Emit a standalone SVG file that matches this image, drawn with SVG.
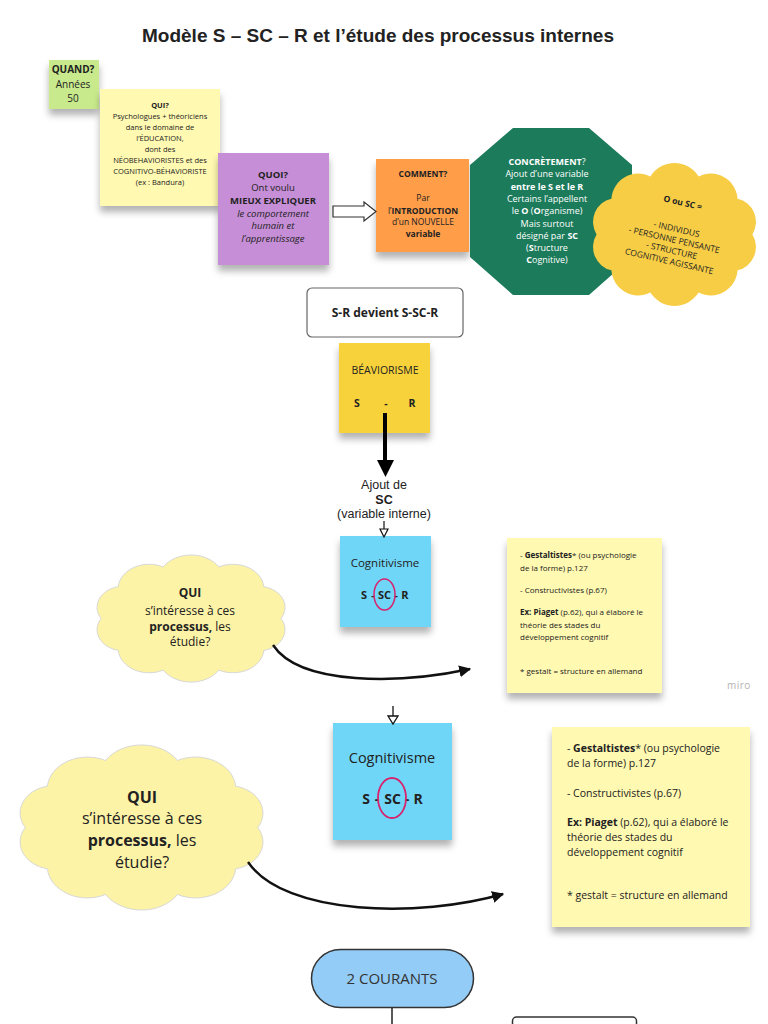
<svg xmlns="http://www.w3.org/2000/svg" width="768" height="1024" viewBox="0 0 768 1024">
<style>
text{font-family:"Open Sans","Noto Sans",sans-serif;fill:#222}
.t{font-family:"Liberation Sans",Arial,sans-serif;font-weight:bold;font-size:19px;fill:#222}
.ar{font-family:"Liberation Sans",Arial,sans-serif;font-size:12.5px;fill:#222}
.b{font-weight:bold}
.i{font-style:italic}
.c{text-anchor:middle}
.w,.w tspan{fill:#fff}
.note{filter:url(#sh)}
.cl{stroke:#d8d8d8;stroke-width:1}
.ln{fill:none;stroke:#111;stroke-width:2.4}
</style>
<defs>
<filter id="sh" x="-20%" y="-20%" width="140%" height="150%">
<feDropShadow dx="0" dy="6" stdDeviation="3.5" flood-color="#000" flood-opacity="0.3"/>
</filter>
<path id="cloud" vector-effect="non-scaling-stroke" d="M184,80 A25,25 0 0 1 168,117.6 A29,29 0 0 1 126,140.9 A31,31 0 0 1 74,140.9 A29,29 0 0 1 32,117.6 A25,25 0 0 1 16,80 A25,25 0 0 1 32,42.4 A29,29 0 0 1 74,19.1 A31,31 0 0 1 126,19.1 A29,29 0 0 1 168,42.4 A25,25 0 0 1 184,80 Z"/>
<marker id="ah" viewBox="0 0 10 10" refX="9" refY="5" markerWidth="5" markerHeight="5" orient="auto" markerUnits="strokeWidth">
<path d="M0,0 L10,5 L0,10 Z" fill="#111"/>
</marker>
</defs>
<rect width="768" height="1024" fill="#fff"/>

<text class="t c" x="378" y="42">Modèle S – SC – R et l’étude des processus internes</text>

<g id="quand">
<rect class="note" x="49" y="60" width="50" height="49" fill="#c9ea8c"/>
<text class="c" x="73" y="73" font-size="10"><tspan class="b">QUAND?</tspan><tspan x="73" dy="15">Années</tspan><tspan x="73" dy="14">50</tspan></text>
</g>

<g id="qui">
<rect class="note" x="100" y="89" width="120" height="117" fill="#fff9b1"/>
<text class="c" x="160" y="108" font-size="7.5"><tspan class="b">QUI?</tspan><tspan x="160" dy="11">Psychologues + théoriciens</tspan><tspan x="160" dy="11">dans le domaine de</tspan><tspan x="160" dy="11">l’ÉDUCATION,</tspan><tspan x="160" dy="11">dont des</tspan><tspan x="160" dy="11">NÉOBEHAVIORISTES et des</tspan><tspan x="160" dy="11">COGNITIVO-BÉHAVIORISTE</tspan><tspan x="160" dy="11">(ex : Bandura)</tspan></text>
</g>

<g id="quoi">
<rect class="note" x="218" y="153" width="111" height="112" fill="#c68ed6"/>
<text class="c" x="273" y="178" font-size="9.5"><tspan class="b">QUOI?</tspan><tspan x="273" dy="13">Ont voulu</tspan><tspan x="273" dy="13" class="b">MIEUX EXPLIQUER</tspan><tspan x="273" dy="12.5" class="i">le comportement</tspan><tspan x="273" dy="12.5" class="i">humain et</tspan><tspan x="273" dy="12.5" class="i">l’apprentissage</tspan></text>
</g>

<g id="comment">
<rect class="note" x="376" y="159" width="93" height="93" fill="#ff9d48"/>
<text class="c" x="423" y="177" font-size="8.5"><tspan class="b">COMMENT?</tspan><tspan x="423" dy="24">Par</tspan><tspan x="423" dy="12.5">l’<tspan class="b">INTRODUCTION</tspan></tspan><tspan x="423" dy="11.5">d’un NOUVELLE</tspan><tspan x="423" dy="12" class="b">variable</tspan></text>
</g>

<g id="concretement">
<polygon points="513,128 589,128 632,165 632,257 589,295 513,295 470,257 470,165" fill="#1c7b5b"/>
<text class="c w" x="547" y="165" font-size="9"><tspan><tspan class="b">CONCRÈTEMENT</tspan>?</tspan><tspan x="547" dy="12.3">Ajout d’une variable</tspan><tspan x="547" dy="12.3" class="b">entre le S et le R</tspan><tspan x="547" dy="12.3">Certains l’appellent</tspan><tspan x="547" dy="12.3">le <tspan class="b">O</tspan> (<tspan class="b">O</tspan>rganisme)</tspan><tspan x="547" dy="12.3">Mais surtout</tspan><tspan x="547" dy="12.3">désigné par <tspan class="b">SC</tspan></tspan><tspan x="547" dy="12.3">(<tspan class="b">S</tspan>tructure</tspan><tspan x="547" dy="12.3"><tspan class="b">C</tspan>ognitive)</tspan></text>
</g>

<g id="osc">
<use href="#cloud" transform="translate(581.68,158.23) scale(0.928,0.953)" fill="#f6cd45"/>
<g transform="rotate(13 676 232)">
<text class="c" x="676" y="205" font-size="8.5"><tspan class="b">O ou SC =</tspan><tspan x="676" dy="27">- INDIVIDUS</tspan><tspan x="676" dy="11">- PERSONNE PENSANTE</tspan><tspan x="676" dy="11">- STRUCTURE</tspan><tspan x="676" dy="11">COGNITIVE AGISSANTE</tspan></text>
</g>
</g>

<g id="devient">
<rect x="307" y="288" width="156" height="49" rx="5" fill="#fff" stroke="#666" stroke-width="1.2"/>
<text class="c b" x="385" y="317" font-size="12">S-R devient S-SC-R</text>
</g>

<g id="beaviorisme">
<rect class="note" x="339" y="343" width="91" height="90" fill="#f7d23a"/>
<text class="c" x="385" y="374" font-size="10.5">BÉAVIORISME</text>
<text class="c b" y="407" font-size="10.5"><tspan x="357">S</tspan><tspan x="386">-</tspan><tspan x="412">R</tspan></text>
</g>

<g id="cogni1">
<rect class="note" x="340" y="536" width="91" height="91" fill="#6fd6f8"/>
<text class="c" x="385" y="567" font-size="11.5">Cognitivisme</text>
<text class="c b" y="599" font-size="11"><tspan x="364">S</tspan><tspan x="373">-</tspan><tspan x="384.5">SC</tspan><tspan x="396">-</tspan><tspan x="405">R</tspan></text>
<ellipse cx="384.5" cy="594.5" rx="10.5" ry="15.5" fill="none" stroke="#d6246e" stroke-width="1.5"/>
</g>

<g id="cloud1">
<use href="#cloud" class="cl" transform="translate(83.93,550.77) scale(1.071,0.847)" fill="#fdf3a6"/>
<text class="c" x="190" y="597" font-size="12"><tspan class="b">QUI</tspan><tspan x="190" dy="18">s’intéresse à ces</tspan><tspan x="190" dy="16"><tspan class="b">processus,</tspan> les</tspan><tspan x="190" dy="15">étudie?</tspan></text>
</g>

<g id="liste1">
<rect class="note" x="507" y="538" width="155" height="155" fill="#fff9b1"/>
<text x="520" y="558" font-size="8"><tspan>- <tspan class="b">Gestaltistes</tspan>* (ou psychologie</tspan><tspan x="520" dy="13">de la forme) p.127</tspan><tspan x="520" dy="22">- Constructivistes (p.67)</tspan><tspan x="520" dy="22"><tspan class="b">Ex: Piaget</tspan> (p.62), qui a élaboré le</tspan><tspan x="520" dy="12.5">théorie des stades du</tspan><tspan x="520" dy="12.5">développement cognitif</tspan><tspan x="520" dy="34">* gestalt = structure en allemand</tspan></text>
</g>

<text x="727" y="689" font-size="10" style="fill:#b3b3b3;letter-spacing:0.5px">miro</text>

<g id="cogni2">
<rect class="note" x="333" y="723" width="119" height="117" fill="#6fd6f8"/>
<text class="c" x="392" y="763" font-size="14.5">Cognitivisme</text>
<text class="c b" y="804" font-size="14"><tspan x="366">S</tspan><tspan x="377">-</tspan><tspan x="392.5">SC</tspan><tspan x="407">-</tspan><tspan x="418">R</tspan></text>
<ellipse cx="392" cy="798" rx="14" ry="20" fill="none" stroke="#d6246e" stroke-width="1.8"/>
</g>

<g id="cloud2">
<use href="#cloud" class="cl" transform="translate(3.12,739.5) scale(1.384,1.1)" fill="#fdf3a6"/>
<text class="c" x="142" y="803" font-size="16"><tspan class="b">QUI</tspan><tspan x="142" dy="21">s’intéresse à ces</tspan><tspan x="142" dy="22"><tspan class="b">processus,</tspan> les</tspan><tspan x="142" dy="22">étudie?</tspan></text>
</g>

<g id="liste2">
<rect class="note" x="552" y="727" width="198" height="200" fill="#fff9b1"/>
<text x="567" y="752" font-size="10.5"><tspan>- <tspan class="b">Gestaltistes</tspan>* (ou psychologie</tspan><tspan x="567" dy="15">de la forme) p.127</tspan><tspan x="567" dy="30">- Constructivistes (p.67)</tspan><tspan x="567" dy="29"><tspan class="b">Ex: Piaget</tspan> (p.62), qui a élaboré le</tspan><tspan x="567" dy="15">théorie des stades du</tspan><tspan x="567" dy="15">développement cognitif</tspan><tspan x="567" dy="43">* gestalt = structure en allemand</tspan></text>
</g>

<g id="courants">
<rect x="311.5" y="949.5" width="162" height="58" rx="29" fill="#93ccf6" stroke="#333" stroke-width="1.5"/>
<text class="c" x="392" y="984" font-size="15" style="fill:#333">2 COURANTS</text>
</g>

<g id="bas">
<rect x="512.5" y="1017" width="124" height="20" rx="4" fill="#fff" stroke="#333" stroke-width="1.5"/>
</g>

<g id="connectors">
<polygon points="333,206 364,206 364,202 376,211.5 364,221 364,217 333,217" fill="#fff" stroke="#333" stroke-width="1.2"/>
<line x1="385" y1="413" x2="385" y2="462" stroke="#000" stroke-width="4"/>
<polygon points="377,460 394,460 385.5,477" fill="#000"/>
<text class="ar c" x="384" y="489">Ajout de</text>
<text class="ar c b" x="384" y="504">SC</text>
<text class="ar c" x="384" y="518">(variable interne)</text>
<line x1="384" y1="521" x2="384" y2="529" stroke="#111" stroke-width="1.2"/>
<polygon points="380,529 388,529 384,537" fill="#fff" stroke="#111" stroke-width="1.2"/>
<line x1="393" y1="706" x2="393" y2="716" stroke="#111" stroke-width="1.3"/>
<polygon points="388,716 398,716 393,724" fill="#fff" stroke="#111" stroke-width="1.3"/>
<path class="ln" d="M273,645 C300,686 400,684 470,669" marker-end="url(#ah)"/>
<path class="ln" d="M248,862 C285,916 420,918 503,894" marker-end="url(#ah)"/>
<line x1="392" y1="1008" x2="392" y2="1024" stroke="#222" stroke-width="1.5"/>
</g>
</svg>
